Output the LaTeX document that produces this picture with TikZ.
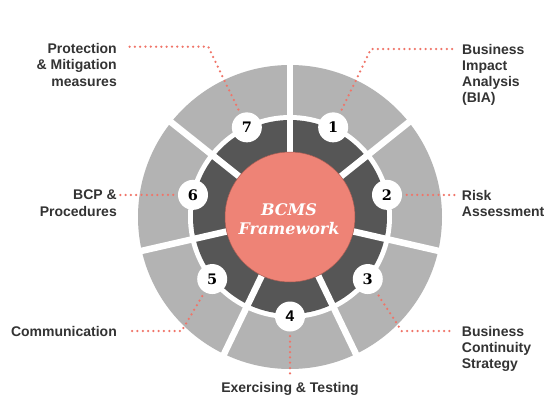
\documentclass[tikz,border=0pt]{standalone}
\usepackage{fontspec}
\newfontfamily\labfont{Liberation Sans}
\newfontfamily\numfont{DejaVu Serif}
\definecolor{ringlight}{HTML}{B3B3B3}
\definecolor{ringdark}{HTML}{565656}
\definecolor{salmon}{HTML}{EE8376}
\definecolor{dotred}{HTML}{F07468}
\definecolor{labtext}{HTML}{333333}
\begin{document}
\begin{tikzpicture}[x=1pt,y=1pt,
  lbl/.style={inner sep=0pt, font=\labfont\bfseries\fontsize{14}{16.2}\selectfont, text=labtext},
  numc/.style={circle, fill=white, minimum size=30pt, inner sep=0pt, font=\numfont\bfseries\fontsize{14.5}{14.5}\selectfont, text=black},
  leader/.style={draw=dotred, line width=2.5pt, dash pattern=on 0pt off 5.3pt, line cap=round, shorten <=4.5pt},
  gap/.style={white, line width=6.5pt}]
\useasboundingbox[fill=white] (0,0) rectangle (550,-400);
\coordinate (c) at (290,-217);
% rings
\fill[ringlight] (c) circle (152);
\fill[white] (c) circle (102);
\fill[ringdark] (c) circle (97);
\foreach \a in {90,141.43,192.86,244.29,295.71,347.14,38.57}
  \draw[gap] (c) -- ++(\a:158);
\node[circle, fill=salmon, draw=salmon!70!black, line width=0.5pt, minimum size=130pt, inner sep=0pt] (core) at (c) {};
\node[text=white, font=\numfont\bfseries\itshape\fontsize{16}{19}\selectfont, align=center] (title) at (289,-219) {BCMS\\Framework};
% numbers
\node[numc] (n1) at ([shift={(64.29:99.5)}]c) {1};
\node[numc] (n2) at ([shift={(12.86:99.5)}]c) {2};
\node[numc] (n3) at ([shift={(321.43:99.5)}]c) {3};
\node[numc, font=\labfont\bfseries\fontsize{15.5}{15.5}\selectfont] (n4) at ([shift={(270:99.5)}]c) {4};
\node[numc] (n5) at ([shift={(218.57:99.5)}]c) {5};
\node[numc] (n6) at ([shift={(167.14:99.5)}]c) {6};
\node[numc] (n7) at ([shift={(115.71:99.5)}]c) {7};
% labels
\node[lbl, anchor=north east, align=right] (l7) at (117,-43.3) {Protection\\\& Mitigation\\measures};
\node[lbl, anchor=north west, align=left] (l1) at (462,-44) {Business\\Impact\\Analysis\\(BIA)};
\node[lbl, anchor=north east, align=right] (l6) at (117,-190) {BCP \&\\Procedures};
\node[lbl, anchor=north west, align=left] (l2) at (461.7,-190) {Risk\\Assessment};
\node[lbl, anchor=north east, align=right] (l5) at (117,-326) {Communication};
\node[lbl, anchor=north west, align=left] (l3) at (461.7,-326) {Business\\Continuity\\Strategy};
\node[lbl, anchor=north] (l4) at (290,-382) {Exercising \& Testing};
% leader coordinates
\coordinate (b1) at (371,-49);   \coordinate (e1) at (453,-49);
\coordinate (e2) at (456,-195);
\coordinate (b3) at (401.7,-331); \coordinate (e3) at (451.7,-331);
\coordinate (e4) at (290,-378);
\coordinate (b5) at (181.7,-331); \coordinate (e5) at (128,-331);
\coordinate (e6) at (120,-195);
\coordinate (b7) at (208.3,-46.7); \coordinate (e7) at (126.7,-46.7);
% leaders
\draw[leader] (n1) -- (b1) -- (e1);
\draw[leader] (n2) -- (e2);
\draw[leader] (n3) -- (b3) -- (e3);
\draw[leader] (n4) -- (e4);
\draw[leader] (n5) -- (b5) -- (e5);
\draw[leader] (n6) -- (e6);
\draw[leader] (n7) -- (b7) -- (e7);
\end{tikzpicture}
\end{document}
